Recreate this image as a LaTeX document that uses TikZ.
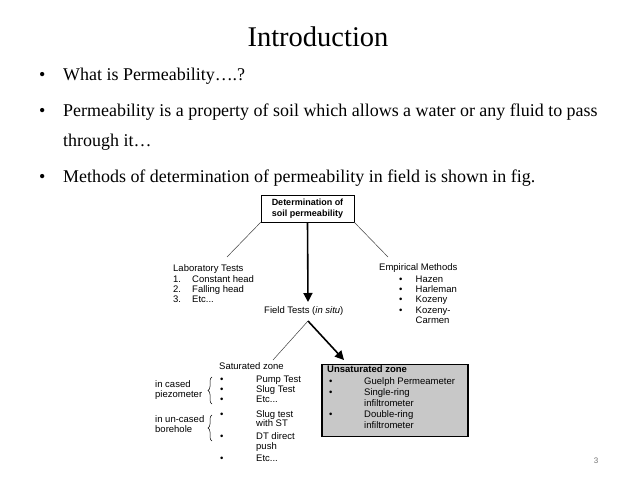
\documentclass[tikz,border=0pt]{standalone}
\usepackage{fontspec}
\setmainfont{Liberation Serif}
\newfontfamily\arialf{Liberation Sans}
\usetikzlibrary{arrows.meta,decorations.pathreplacing}
\definecolor{boxgray}{RGB}{200,200,200}
\begin{document}
\begin{tikzpicture}[x=1pt,y=-1pt,
  body/.style={font=\fontsize{17.95}{20}\selectfont, anchor=base west, inner sep=0},
  dtxt/.style={font=\arialf\fontsize{9.5}{10}\selectfont, anchor=base west, inner sep=0},
  dbold/.style={font=\arialf\bfseries\fontsize{9.5}{10}\selectfont, anchor=base west, inner sep=0},
  thinline/.style={draw=black!75, line width=0.5pt},
  thickarrow/.style={line width=1.6pt, -{Triangle[length=9pt,width=9pt]}},
  bracestyle/.style={decorate, decoration={brace, amplitude=4pt}, line width=0.5pt}
]
\useasboundingbox (0,0) rectangle (638,478);

% title and bullets
\node[font=\fontsize{28.5}{30}\selectfont, anchor=base, inner sep=0] (title) at (318,47) {Introduction};
\node[body] (d1) at (39,81) {•};
\node[body] (t1) at (63,81) {What is Permeability….?};
\node[body] (d2) at (39,117) {•};
\node[body] (t2) at (63,117) {Permeability is a property of soil which allows a water or any fluid to pass};
\node[body] (t2b) at (63,147) {through it…};
\node[body] (d3) at (39,183) {•};
\node[body] (t3) at (63,183) {Methods of determination of permeability in field is shown in fig.};

% top box
\node[draw, line width=0.6pt, font=\arialf\bfseries\fontsize{9}{10.5}\selectfont, align=center,
      minimum width=93, minimum height=27, inner sep=0] (det) at (307.5,208.5) {Determination of\\soil permeability};
\coordinate (labtop) at (227,257);
\coordinate (emptop) at (388,257);
\draw[thinline] (det.south west) -- (labtop);
\draw[thinline] (det.south east) -- (emptop);

% laboratory
\node[dtxt] (lab) at (173,272) {Laboratory Tests};
\node[dtxt] (l1n) at (173,282.5) {1.};
\node[dtxt] (l1) at (192,282.5) {Constant head};
\node[dtxt] (l2n) at (173,292.8) {2.};
\node[dtxt] (l2) at (192,292.8) {Falling head};
\node[dtxt] (l3n) at (173,303) {3.};
\node[dtxt] (l3) at (192,303) {Etc...};

% empirical
\node[dtxt] (emp) at (379,271) {Empirical Methods};
\node[dtxt] (e1d) at (399,282.5) {•};
\node[dtxt] (e1) at (415.5,282.5) {Hazen};
\node[dtxt] (e2d) at (399,293) {•};
\node[dtxt] (e2) at (415.5,293) {Harleman};
\node[dtxt] (e3d) at (399,303) {•};
\node[dtxt] (e3) at (415.5,303) {Kozeny};
\node[dtxt] (e4d) at (399,313.5) {•};
\node[dtxt] (e4) at (415.5,313.5) {Kozeny-};
\node[dtxt] (e5) at (415.5,323.5) {Carmen};

% field tests
\node[dtxt] (field) at (264,314) {Field Tests (\textit{in situ})};
\draw[thickarrow] (det.south) -- (308,302);
\coordinate (apex) at (308,321);
\coordinate (sattop) at (273,360);
\coordinate (unsattop) at (344,360);
\draw[thinline] (apex) -- (sattop);
\draw[thickarrow] (apex) -- (unsattop);

% saturated zone
\node[dtxt] (sat) at (219,370) {Saturated zone};
\node[dtxt] (s1d) at (220,383) {•};
\node[dtxt] (s1) at (256,383) {Pump Test};
\node[dtxt] (s2d) at (220,393) {•};
\node[dtxt] (s2) at (256,393) {Slug Test};
\node[dtxt] (s3d) at (220,403) {•};
\node[dtxt] (s3) at (256,403) {Etc...};
\node[dtxt] (s4d) at (220,418) {•};
\node[dtxt] (s4) at (256,418) {Slug test};
\node[dtxt] (s4b) at (256,427) {with ST};
\node[dtxt] (s5d) at (220,440) {•};
\node[dtxt] (s5) at (256,440) {DT direct};
\node[dtxt] (s5b) at (256,450) {push};
\node[dtxt] (s6d) at (220,462) {•};
\node[dtxt] (s6) at (256,462) {Etc...};

\node[dtxt] (cased1) at (155,388) {in cased};
\node[dtxt] (cased2) at (155,398) {piezometer};
\node[dtxt] (uncased1) at (155,423) {in un-cased};
\node[dtxt] (uncased2) at (155,433) {borehole};
\draw[bracestyle] (212,404) -- (212,377);
\draw[bracestyle] (212,441) -- (212,415);

% unsaturated zone
\node[draw, line width=1.5pt, fill=boxgray, minimum width=146, minimum height=72,
      anchor=north west, inner sep=0] (unsat) at (321,364) {};
\node[dbold] (uz) at (327,373) {Unsaturated zone};
\node[dtxt] (u1d) at (329,385) {•};
\node[dtxt] (u1) at (364,385) {Guelph Permeameter};
\node[dtxt] (u2d) at (329,396) {•};
\node[dtxt] (u2) at (364,396) {Single-ring};
\node[dtxt] (u2b) at (364,407) {infiltrometer};
\node[dtxt] (u3d) at (329,418) {•};
\node[dtxt] (u3) at (364,418) {Double-ring};
\node[dtxt] (u3b) at (364,429) {infiltrometer};

\node[font=\arialf\fontsize{8}{9}\selectfont, text=black!55, inner sep=0] (pg) at (596,461) {3};
\end{tikzpicture}
\end{document}
